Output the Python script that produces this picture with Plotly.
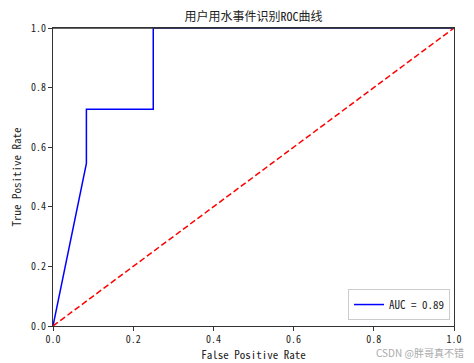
import plotly.graph_objects as go

fpr = [0.0, 0.0833, 0.0833, 0.25, 0.25, 1.0]
tpr = [0.0, 0.5455, 0.7273, 0.7273, 1.0, 1.0]
diag_x = [0, 1]
diag_y = [0, 1]
auc_label = "AUC = 0.89"
title = "用户用水事件识别ROC曲线"
ticks = [0, 0.2, 0.4, 0.6, 0.8, 1.0]
tick_text = ["0.0", "0.2", "0.4", "0.6", "0.8", "1.0"]

font = "Noto Sans Mono CJK SC, DejaVu Sans Mono, Noto Sans CJK SC"

fig = go.Figure()
fig.add_trace(go.Scatter(x=fpr, y=tpr, mode="lines", name=auc_label,
                         line=dict(color="#0000ff", width=1.5)))
fig.add_trace(go.Scatter(x=diag_x, y=diag_y, mode="lines", showlegend=False,
                         line=dict(color="#ff0000", width=1.5, dash="6px,3px")))

axis_common = dict(range=[0, 1], tickvals=ticks, ticktext=tick_text,
                   showgrid=False, zeroline=False, showline=True, mirror=True,
                   linecolor="#333333", linewidth=1, ticks="outside", ticklen=4,
                   tickcolor="#333333", automargin=False,
                   tickfont=dict(size=10, color="#222222", family=font))

fig.update_layout(
    width=466, height=355,
    margin=dict(l=45, r=20, t=20, b=37),
    paper_bgcolor="white", plot_bgcolor="white",
    font=dict(family=font, color="#222222"),
    title=dict(text=title, xref="paper", x=0.5, xanchor="center",
               yref="container", y=0.975, yanchor="middle",
               font=dict(size=12, color="#222222", family=font)),
    xaxis=dict(**axis_common, title=dict(text="False Positive Rate", standoff=1,
                                         font=dict(size=11, family=font))),
    yaxis=dict(**axis_common, title=dict(text="True Positive Rate", standoff=7,
                                         font=dict(size=11, family=font))),
    legend=dict(x=0.99, y=0.02, xanchor="right", yanchor="bottom",
                bordercolor="#cccccc", borderwidth=1, bgcolor="white",
                itemwidth=30, tracegroupgap=0,
                font=dict(size=11, family=font, color="#222222")),
    shapes=[dict(type="line", xref="paper", yref="paper", x0=0, x1=1, y0=1, y1=1,
                 layer="above", line=dict(color="#333333", width=1.5))],
    annotations=[dict(text="CSDN @胖哥真不错", x=1, xref="paper", xanchor="right",
                      y=0, yref="paper", yanchor="middle", yshift=-26, xshift=12,
                      showarrow=False, font=dict(size=10, color="#aaaaaa",
                                                 family="Noto Sans CJK SC"))],
)

fig.write_html("out.html")
